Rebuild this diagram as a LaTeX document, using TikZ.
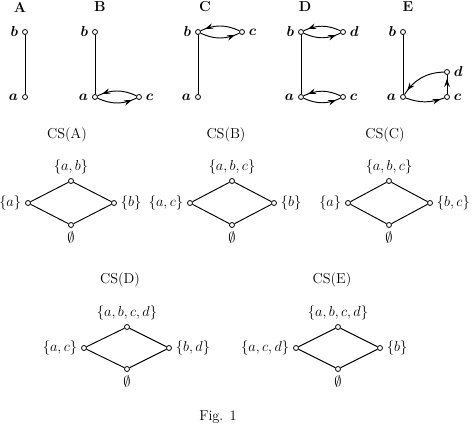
\documentclass[tikz,border=0pt]{standalone}
\usepackage{amssymb}
\usepackage{amsmath}
\usepackage{bm}
\usetikzlibrary{arrows.meta,decorations.markings}

\tikzset{
  vtx/.style={circle, draw, fill=white, inner sep=0pt, minimum size=5pt, line width=0.8pt},
  link/.style={line width=0.95pt},
  arcarrow/.style={postaction={decorate}, decoration={markings, mark=at position #1 with {\arrow{Stealth[length=8pt,width=5.5pt]}}}},
  arcarrow/.default=0.88,
  every label/.style={label distance=0.5pt},
}

\begin{document}
\begin{tikzpicture}[x=1pt, y=1pt, font=\Large]
	\useasboundingbox (0,0) rectangle (474,430); % Rand um Grafik

	% obere Reihe: Graphen A bis E
	\begin{scope}[every label/.append style={font=\Large}]
	\node[font=\Large\bfseries] at (20,423) {A};
	\node[vtx, label=left:{$\bm b$}] (Ab) at (25,398) {};
	\node[vtx, label=left:{$\bm a$}] (Aa) at (25,333) {};
	\draw[link] (Ab) -- (Aa);

	\node[font=\Large\bfseries] at (100,423) {B};
	\node[vtx, label=left:{$\bm b$}] (Bb) at (95,398) {};
	\node[vtx, label=left:{$\bm a$}] (Ba) at (95,333) {};
	\node[vtx, label=right:{$\bm c$}] (Bc) at (139,333) {};
	\draw[link] (Bb) -- (Ba);
	\draw[link, arcarrow] (Bc) to[bend right=25] (Ba);
	\draw[link, arcarrow] (Ba) to[bend right=25] (Bc);

	\node[font=\Large\bfseries] at (205,423) {C};
	\node[vtx, label=left:{$\bm b$}] (Cb) at (198,398) {};
	\node[vtx, label=left:{$\bm a$}] (Ca) at (198,333) {};
	\node[vtx, label=right:{$\bm c$}] (Cc) at (242,398) {};
	\draw[link] (Cb) -- (Ca);
	\draw[link, arcarrow] (Cc) to[bend right=25] (Cb);
	\draw[link, arcarrow] (Cb) to[bend right=25] (Cc);

	\node[font=\Large\bfseries] at (305,423) {D};
	\node[vtx, label=left:{$\bm b$}] (Db) at (301,398) {};
	\node[vtx, label=right:{$\bm d$}] (Dd) at (343,398) {};
	\node[vtx, label=left:{$\bm a$}] (Da) at (301,333) {};
	\node[vtx, label=right:{$\bm c$}] (Dc) at (343,333) {};
	\draw[link] (Db) -- (Da);
	\draw[link, arcarrow] (Dd) to[bend right=25] (Db);
	\draw[link, arcarrow] (Db) to[bend right=25] (Dd);
	\draw[link, arcarrow] (Dc) to[bend right=25] (Da);
	\draw[link, arcarrow] (Da) to[bend right=25] (Dc);

	\node[font=\Large\bfseries] at (408,423) {E};
	\node[vtx, label=left:{$\bm b$}] (Eb) at (403,398) {};
	\node[vtx, label=left:{$\bm a$}] (Ea) at (403,333) {};
	\node[vtx, label=right:{$\bm c$}] (Ec) at (447,333) {};
	\node[vtx, label=right:{$\bm d$}] (Ed) at (447,358) {};
	\draw[link] (Eb) -- (Ea);
	\draw[link, arcarrow=0.9] (Ea) to[bend right=20] (Ec);
	\draw[link, arcarrow=0.8] (Ec) -- (Ed);
	\draw[link, arcarrow=0.9] (Ed) to[bend right=28] (Ea);
	\end{scope}

	% CS(A)
	\node at (67,295) {CS(A)};
	\node[vtx, label=above:{$\{a,b\}$}] (CSAtop) at (71,249) {};
	\node[vtx, label=left:{$\{a\}$}] (CSAleft) at (28,227) {};
	\node[vtx, label=right:{$\{b\}$}] (CSAright) at (114,227) {};
	\node[vtx, label=below:{$\emptyset$}] (CSAbot) at (71,205) {};
	\draw[link] (CSAtop) -- (CSAleft) -- (CSAbot) -- (CSAright) -- (CSAtop);

	% CS(B)
	\node at (226,295) {CS(B)};
	\node[vtx, label=above:{$\{a,b,c\}$}] (CSBtop) at (232,249) {};
	\node[vtx, label=left:{$\{a,c\}$}] (CSBleft) at (190,227) {};
	\node[vtx, label=right:{$\{b\}$}] (CSBright) at (274,227) {};
	\node[vtx, label=below:{$\emptyset$}] (CSBbot) at (232,205) {};
	\draw[link] (CSBtop) -- (CSBleft) -- (CSBbot) -- (CSBright) -- (CSBtop);

	% CS(C)
	\node at (385,295) {CS(C)};
	\node[vtx, label=above:{$\{a,b,c\}$}] (CSCtop) at (389,249) {};
	\node[vtx, label=left:{$\{a\}$}] (CSCleft) at (348,227) {};
	\node[vtx, label=right:{$\{b,c\}$}] (CSCright) at (430,227) {};
	\node[vtx, label=below:{$\emptyset$}] (CSCbot) at (389,205) {};
	\draw[link] (CSCtop) -- (CSCleft) -- (CSCbot) -- (CSCright) -- (CSCtop);

	% CS(D)
	\node at (120,150) {CS(D)};
	\node[vtx, label=above:{$\{a,b,c,d\}$}] (CSDtop) at (127,103) {};
	\node[vtx, label=left:{$\{a,c\}$}] (CSDleft) at (84,82) {};
	\node[vtx, label=right:{$\{b,d\}$}] (CSDright) at (169,82) {};
	\node[vtx, label=below:{$\emptyset$}] (CSDbot) at (127,61) {};
	\draw[link] (CSDtop) -- (CSDleft) -- (CSDbot) -- (CSDright) -- (CSDtop);

	% CS(E)
	\node at (332,150) {CS(E)};
	\node[vtx, label=above:{$\{a,b,c,d\}$}] (CSEtop) at (338,103) {};
	\node[vtx, label=left:{$\{a,c,d\}$}] (CSEleft) at (296,82) {};
	\node[vtx, label=right:{$\{b\}$}] (CSEright) at (380,82) {};
	\node[vtx, label=below:{$\emptyset$}] (CSEbot) at (338,61) {};
	\draw[link] (CSEtop) -- (CSEleft) -- (CSEbot) -- (CSEright) -- (CSEtop);

	\node at (218,13) {Fig. 1};
\end{tikzpicture}
\end{document}
